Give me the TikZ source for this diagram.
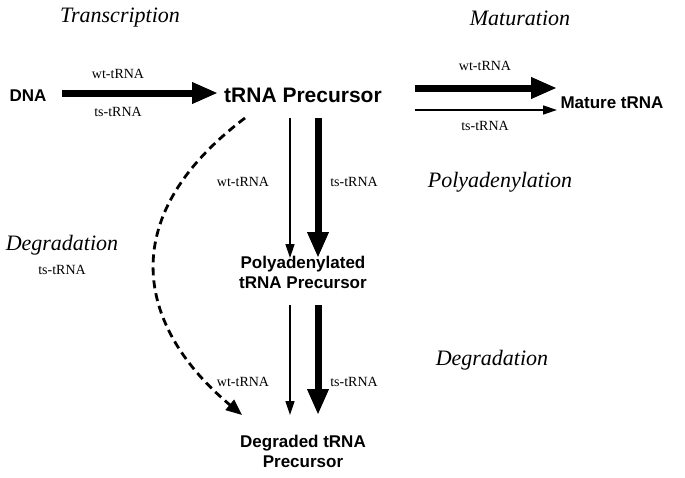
\documentclass[tikz,border=0pt]{standalone}
\usepackage{fontspec}
\setmainfont{Liberation Serif}
\setsansfont{Liberation Sans}
\usetikzlibrary{arrows.meta}
\begin{document}
\begin{tikzpicture}[x=1pt,y=-1pt,
  lab/.style={font=\fontsize{14}{15}\selectfont},
  proc/.style={font=\fontsize{22}{24}\selectfont\itshape},
  mol/.style={font=\fontsize{17}{20}\selectfont\sffamily\bfseries,align=center},
  big/.style={font=\fontsize{21}{23}\selectfont\sffamily\bfseries},
  thick arr/.style={line width=7pt,-{Triangle[length=26pt,width=20pt]}},
  thin arr/.style={line width=1.4pt,-{Triangle[length=14pt,width=9pt]}}]
\useasboundingbox (0,0) rectangle (685,477);
\node[proc] (t1) at (120,18) {Transcription};
\node[proc] (t2) at (520,18) {Maturation};
\node[proc] (t3) at (500,182) {Polyadenylation};
\node[proc] (t4) at (492,360) {Degradation};
\node[proc] (t5) at (62,245) {Degradation};
\node[lab] (l0) at (62,270) {ts-tRNA};
\node[mol] (dna) at (28,96) {DNA};
\node[big] (pre) at (303,95) {tRNA Precursor};
\node[mol] (mat) at (612,103) {Mature tRNA};
\node[mol] (poly) at (303,272) {Polyadenylated\\tRNA Precursor};
\node[mol] (deg) at (303,451) {Degraded tRNA\\Precursor};
\coordinate (a1) at (62,93); \coordinate (a2) at (218,93);
\draw[thick arr] (a1) -- (a2);
\node[lab] (l1) at (118,74) {wt-tRNA};
\node[lab] (l2) at (118,112) {ts-tRNA};
\coordinate (b1) at (415,88); \coordinate (b2) at (557,88);
\coordinate (c1) at (415,110); \coordinate (c2) at (557,110);
\draw[thick arr] (b1) -- (b2);
\draw[thin arr] (c1) -- (c2);
\node[lab] (l3) at (485,66) {wt-tRNA};
\node[lab] (l4) at (485,126) {ts-tRNA};
\coordinate (d1) at (290,118); \coordinate (d2) at (290,258);
\coordinate (e1) at (318,118); \coordinate (e2) at (318,258);
\draw[thin arr] (d1) -- (d2);
\draw[thick arr] (e1) -- (e2);
\node[lab] (l5) at (243,182) {wt-tRNA};
\node[lab] (l6) at (354,182) {ts-tRNA};
\coordinate (f1) at (290,305); \coordinate (f2) at (290,415);
\coordinate (g1) at (318,305); \coordinate (g2) at (318,415);
\draw[thin arr] (f1) -- (f2);
\draw[thick arr] (g1) -- (g2);
\node[lab] (l7) at (243,382) {wt-tRNA};
\node[lab] (l8) at (354,382) {ts-tRNA};
\coordinate (h1) at (245,118); \coordinate (h2) at (242,415);
\draw[line width=2.8pt,dash pattern=on 8pt off 5pt,-{Triangle[length=16pt,width=13pt]}]
  (h1) .. controls (110,220) and (140,330) .. (h2);
\end{tikzpicture}
\end{document}
